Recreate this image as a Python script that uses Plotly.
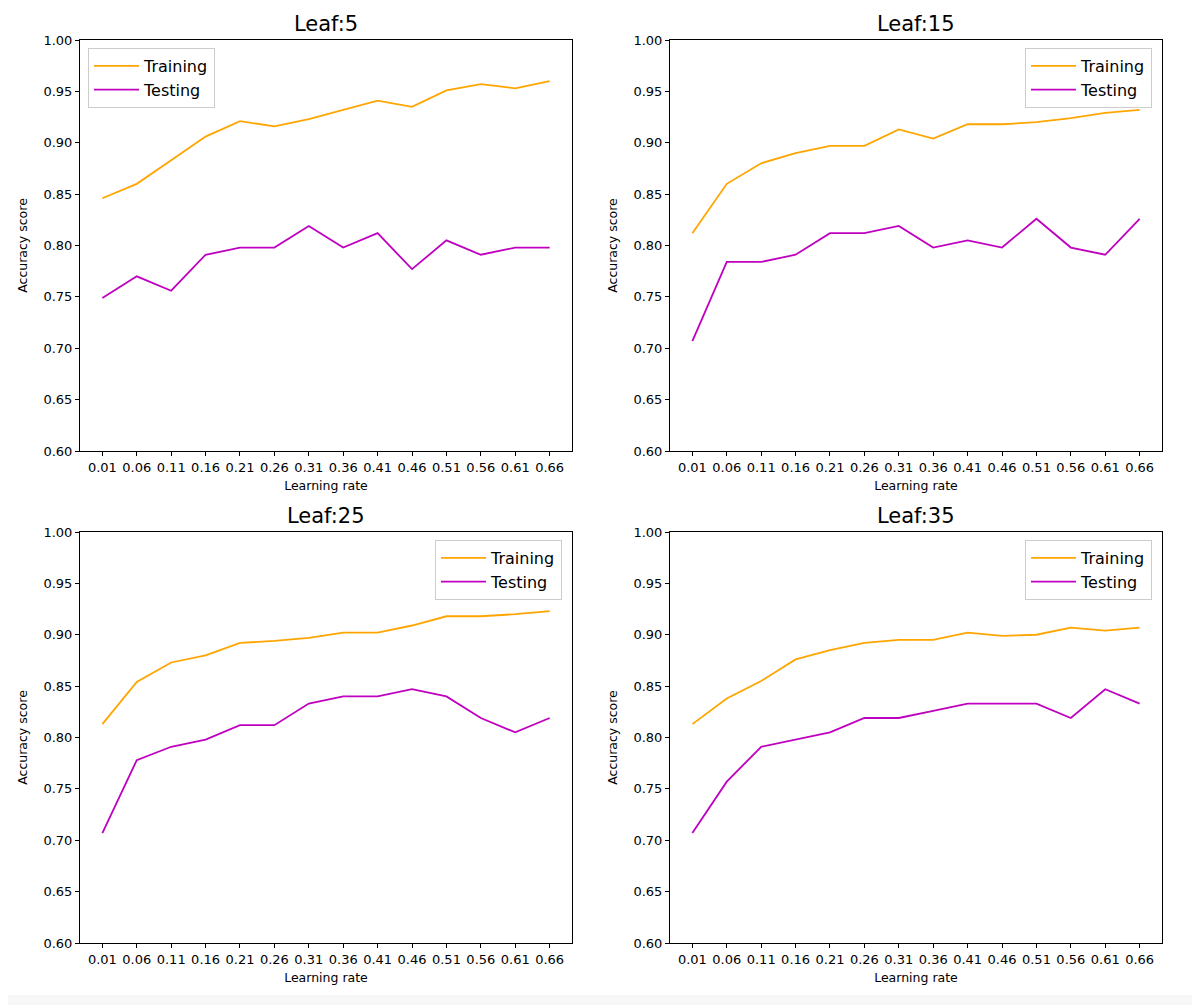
import plotly.graph_objects as go
from plotly.subplots import make_subplots

learning_rates = ["0.01", "0.06", "0.11", "0.16", "0.21", "0.26", "0.31",
                  "0.36", "0.41", "0.46", "0.51", "0.56", "0.61", "0.66"]
leaf_sizes = [5, 15, 25, 35]

train_leaf5 = [0.846, 0.860, 0.883, 0.906, 0.921, 0.916, 0.923,
               0.932, 0.941, 0.935, 0.951, 0.957, 0.953, 0.960]
test_leaf5 = [0.749, 0.770, 0.756, 0.791, 0.798, 0.798, 0.819,
              0.798, 0.812, 0.777, 0.805, 0.791, 0.798, 0.798]

train_leaf15 = [0.812, 0.860, 0.880, 0.890, 0.897, 0.897, 0.913,
                0.904, 0.918, 0.918, 0.920, 0.924, 0.929, 0.932]
test_leaf15 = [0.707, 0.784, 0.784, 0.791, 0.812, 0.812, 0.819,
               0.798, 0.805, 0.798, 0.826, 0.798, 0.791, 0.826]

train_leaf25 = [0.813, 0.854, 0.873, 0.880, 0.892, 0.894, 0.897,
                0.902, 0.902, 0.909, 0.918, 0.918, 0.920, 0.923]
test_leaf25 = [0.707, 0.778, 0.791, 0.798, 0.812, 0.812, 0.833,
               0.840, 0.840, 0.847, 0.840, 0.819, 0.805, 0.819]

train_leaf35 = [0.813, 0.838, 0.855, 0.876, 0.885, 0.892, 0.895,
                0.895, 0.902, 0.899, 0.900, 0.907, 0.904, 0.907]
test_leaf35 = [0.707, 0.757, 0.791, 0.798, 0.805, 0.819, 0.819,
               0.826, 0.833, 0.833, 0.833, 0.819, 0.847, 0.833]

y_ticks = [0.60, 0.65, 0.70, 0.75, 0.80, 0.85, 0.90, 0.95, 1.00]

train_sets = [train_leaf5, train_leaf15, train_leaf25, train_leaf35]
test_sets = [test_leaf5, test_leaf15, test_leaf25, test_leaf35]

# page body has an 8px margin, so the figure is a bit smaller and shifted by that much
OFF = 8
W, H = 1200 - OFF, 1005 - OFF
FONT = "DejaVu Sans"


def px_x(p):
    return (p - OFF) / W


def px_y(p):
    return 1 - (p - OFF) / H


fig = make_subplots(rows=2, cols=2, subplot_titles=[f"Leaf:{n}" for n in leaf_sizes])

# plot areas in screen pixels (left, right, top, bottom)
boxes = [(80, 572, 40, 451), (670, 1162, 40, 451),
         (80, 572, 532, 943), (670, 1162, 532, 943)]
legend_names = ["legend", "legend2", "legend3", "legend4"]

for i in range(4):
    r, c = i // 2 + 1, i % 2 + 1
    fig.add_trace(go.Scatter(x=learning_rates, y=train_sets[i], mode="lines", name="Training",
                             line=dict(color="#FFA500", width=1.8), legend=legend_names[i]),
                  row=r, col=c)
    fig.add_trace(go.Scatter(x=learning_rates, y=test_sets[i], mode="lines", name="Testing",
                             line=dict(color="#BF00BF", width=1.8), legend=legend_names[i]),
                  row=r, col=c)

layout = {}
for i, (x0, x1, y0, y1) in enumerate(boxes):
    sfx = "" if i == 0 else str(i + 1)
    layout["xaxis" + sfx] = dict(
        domain=[px_x(x0), px_x(x1)], type="category", range=[-0.65, 13.65],
        showline=True, mirror=True, linecolor="black", linewidth=1,
        ticks="outside", ticklen=4, tickcolor="black", showgrid=False, zeroline=False,
        tickfont=dict(family=FONT, size=13, color="black"), automargin=False,
        title=dict(text="Learning rate", font=dict(family=FONT, size=12.5, color="black"), standoff=7),
    )
    layout["yaxis" + sfx] = dict(
        domain=[px_y(y1), px_y(y0)], range=[0.6, 1.0],
        tickvals=y_ticks, tickformat=".2f",
        showline=True, mirror=True, linecolor="black", linewidth=1,
        ticks="outside", ticklen=4, tickcolor="black", showgrid=False, zeroline=False,
        tickfont=dict(family=FONT, size=13, color="black"), automargin=False,
        title=dict(text="Accuracy score", font=dict(family=FONT, size=12.5, color="black"), standoff=13),
    )
    if i == 0:
        lx, xa = px_x(x0 + 8), "left"
    else:
        lx, xa = px_x(x1 - 10), "right"
    layout[legend_names[i]] = dict(
        x=lx, xanchor=xa, y=px_y(y0 + 8), yanchor="top",
        bgcolor="white", bordercolor="#cccccc", borderwidth=1, itemwidth=45,
        font=dict(family=FONT, size=16, color="black"),
    )

fig.update_layout(**layout)
fig.update_layout(
    width=W, height=H, margin=dict(l=0, r=0, t=0, b=0, autoexpand=False),
    paper_bgcolor="white", plot_bgcolor="white", showlegend=True,
    shapes=[dict(type="rect", xref="paper", yref="paper", x0=0, x1=1, y0=0, y1=10 / H,
                 fillcolor="#f7f7f7", line=dict(width=0), layer="below")],
)

for i, ann in enumerate(fig.layout.annotations):
    x0, x1, y0, y1 = boxes[i]
    ann.update(x=px_x((x0 + x1) / 2), y=px_y(y0), yanchor="bottom", yshift=2,
               font=dict(family=FONT, size=21, color="black"))

fig.write_html("out.html")
